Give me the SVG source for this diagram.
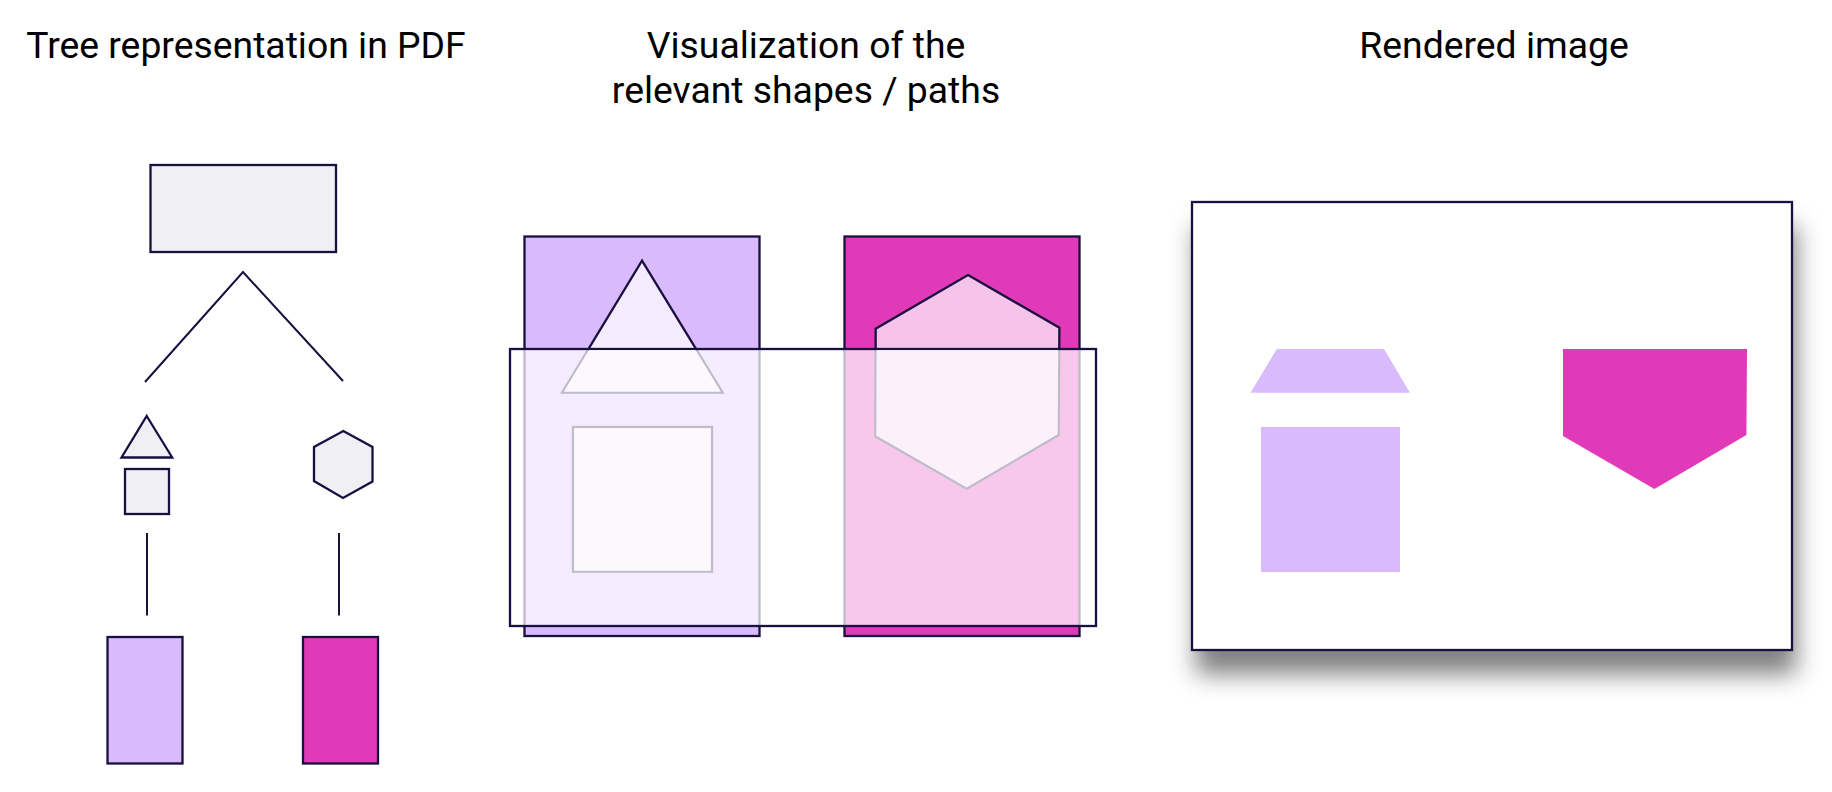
<svg xmlns="http://www.w3.org/2000/svg" width="1832" height="792" viewBox="0 0 1832 792">
<style>
text{font-family:Roboto,"Liberation Sans",sans-serif;font-size:37.33px;fill:#000;text-anchor:middle}
.s{stroke:#1a1040;stroke-width:2.300;stroke-linejoin:miter}
.n{fill:#f0eff4}
.p{fill:#d9bbfd}
.m{fill:#e03ab9}
.g{fill:#fff;fill-opacity:.7}
.i{fill:#fbf9fb}
.h{fill:#fcf1fa}
.c{fill:none;stroke:#1a1040;stroke-width:2}
</style>
<defs>
<filter id="sh" filterUnits="userSpaceOnUse" x="1130" y="150" width="702" height="620">
<feGaussianBlur stdDeviation="12"/>
</filter>
</defs>
<rect width="1832" height="792" fill="#fff"/>
<g id="titles">
<text x="246" y="57.500">Tree representation in PDF</text>
<text x="806" y="57.500">Visualization of the</text>
<text x="806" y="102.500">relevant shapes / paths</text>
<text x="1494" y="57.500">Rendered image</text>
</g>
<g id="connectors">
<path class="c" d="M145 382L243 272L343 381"/>
<path class="c" d="M147 533V615.500"/>
<path class="c" d="M339 533V615.500"/>
</g>
<g id="tree-root"><rect class="s n" x="150.500" y="165" width="185.500" height="87"/></g>
<g id="tree-triangle"><path class="s n" d="M146.700 416L172.200 457.500H121.500Z"/></g>
<g id="tree-square"><rect class="s n" x="125" y="469" width="44" height="45"/></g>
<g id="tree-hexagon"><path class="s n" d="M343.300 431L372.500 447V481.500L343 498L314 481V447Z"/></g>
<g id="tree-leaf-lilac"><rect class="s p" x="107.500" y="637" width="75" height="126.500"/></g>
<g id="tree-leaf-magenta"><rect class="s m" x="303" y="637" width="75" height="126.500"/></g>
<g id="viz-lilac"><rect class="s p" x="524.500" y="236.500" width="235" height="399.500"/>
<path class="s g" d="M642 260.700L722.700 392.700H562Z"/>
<rect class="s g" x="573" y="427" width="139" height="144.700"/></g>
<g id="viz-magenta"><rect class="s m" x="844.500" y="236.500" width="235" height="399.500"/>
<path class="s g" d="M968 275L1059.400 327.700L1058.600 435L966.700 488.700L875.300 436.300L875.700 328.700Z"/></g>
<g id="viz-clip"><rect class="s" fill="#fff" fill-opacity=".72" x="510" y="349" width="586" height="277"/>
<path class="i" d="M589 350.200H695.500L720.500 391.500H564Z"/>
<rect class="i" x="574.200" y="428.200" width="136.600" height="142.300"/>
<path class="h" d="M876.800 350.200H1058.200L1057.400 434.300L966.700 487.300L876.500 435.600Z"/>
</g>
<g id="rendered-shadow"><rect x="1196" y="226" width="600" height="448" fill="#000" fill-opacity=".5" filter="url(#sh)"/></g>
<g id="rendered-page"><rect class="s" fill="#fff" x="1192" y="202" width="600" height="448"/>
<path class="p" d="M1276.800 349H1384L1410 392.700H1250.600Z"/>
<rect class="p" x="1261" y="427" width="139" height="145"/>
<path class="m" d="M1563 349H1747L1746.400 435L1654.400 489L1563 436Z"/></g>
</svg>
